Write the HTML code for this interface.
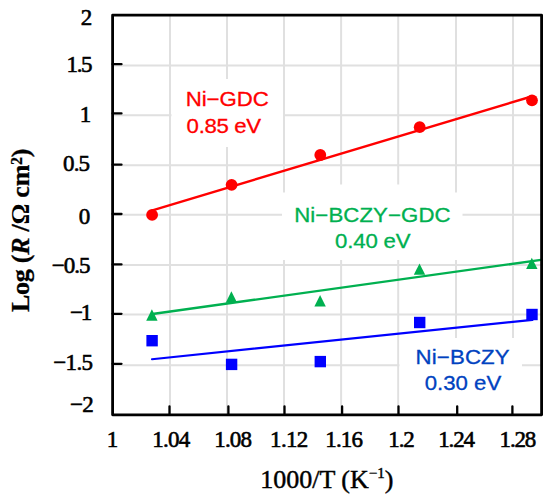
<!DOCTYPE html><html><head><meta charset="utf-8"><style>html,body{margin:0;padding:0;background:#fff;}svg{display:block;}</style></head><body>
<svg width="550" height="502" viewBox="0 0 550 502">
<rect x="0" y="0" width="550" height="502" fill="#fff"/>
<path d="M170.0 15V415M227.0 15V415M284.0 15V415M341.1 15V415M398.2 15V415M456.0 15V415M513.0 15V415M113 65.4H541M113 115.3H541M113 165.3H541M113 214.8H541M113 265.0H541M113 314.6H541M113 365.3H541" stroke="#e0e0e0" stroke-width="2" fill="none"/>
<rect x="171.5" y="79" width="111.5" height="68" fill="#fff"/>
<rect x="282" y="192.5" width="180.5" height="67.5" fill="#fff"/>
<rect x="300" y="184.5" width="140" height="10" fill="#fff"/>
<rect x="399.5" y="338" width="122.5" height="76" fill="#fff"/>
<line x1="152.4" y1="210.33" x2="532.4" y2="96.26" stroke="#ff0000" stroke-width="2.4" stroke-linecap="round"/>
<line x1="152.4" y1="314.03" x2="541" y2="259.82" stroke="#00b050" stroke-width="2.4" stroke-linecap="round"/>
<line x1="152.0" y1="359.24" x2="532.4" y2="319.81" stroke="#0000ff" stroke-width="2.2" stroke-linecap="round"/>
<circle cx="152.1" cy="214.9" r="5.9" fill="#ff0000"/>
<circle cx="231.6" cy="184.8" r="5.9" fill="#ff0000"/>
<circle cx="320.3" cy="155.0" r="5.9" fill="#ff0000"/>
<circle cx="419.7" cy="127.2" r="5.9" fill="#ff0000"/>
<circle cx="532.0" cy="100.3" r="5.9" fill="#ff0000"/>
<path d="M151.9 309.3L157.6 320.7H146.2Z" fill="#00b050"/>
<path d="M231.4 291.3L237.1 302.7H225.7Z" fill="#00b050"/>
<path d="M320.1 295.0L325.8 306.4H314.4Z" fill="#00b050"/>
<path d="M419.5 263.4L425.2 274.8H413.8Z" fill="#00b050"/>
<path d="M531.8 257.7L537.5 269.1H526.1Z" fill="#00b050"/>
<rect x="146.4" y="335.0" width="11.4" height="11.4" fill="#0000ff"/>
<rect x="225.9" y="358.7" width="11.4" height="11.4" fill="#0000ff"/>
<rect x="314.6" y="355.9" width="11.4" height="11.4" fill="#0000ff"/>
<rect x="414.0" y="316.8" width="11.4" height="11.4" fill="#0000ff"/>
<rect x="526.3" y="308.8" width="11.4" height="11.4" fill="#0000ff"/>
<rect x="112.6" y="15.2" width="429" height="399.6" fill="none" stroke="#000" stroke-width="2.8" stroke-linejoin="round"/>
<path d="M112.6 64.20H121.5M112.6 113.45H121.5M112.6 164.65H121.5M112.6 214.00H121.5M112.6 264.40H121.5M112.6 313.80H121.5M112.6 363.80H121.5M169.50 414.8V406.3M228.40 414.8V406.3M284.50 414.8V406.3M342.10 414.8V406.3M398.50 414.8V406.3M457.20 414.8V406.3M512.40 414.8V406.3" stroke="#000" stroke-width="2.3" stroke-linecap="round" fill="none"/>
<text id="y2" x="80.85" y="24.56" font-family='"Liberation Serif", serif' font-size="23" fill="#000" stroke="#000" stroke-width="0.6">2</text>
<text id="y15" x="66.62" y="71.56" textLength="25.87" lengthAdjust="spacing" font-family='"Liberation Serif", serif' font-size="23" fill="#000" stroke="#000" stroke-width="0.6">1.5</text>
<text id="y1" x="79.69" y="121.56" font-family='"Liberation Serif", serif' font-size="23" fill="#000" stroke="#000" stroke-width="0.6">1</text>
<text id="y05" x="63.06" y="171.31" textLength="27.03" lengthAdjust="spacing" font-family='"Liberation Serif", serif' font-size="23" fill="#000" stroke="#000" stroke-width="0.6">0.5</text>
<text id="y0" x="78.78" y="223.56" font-family='"Liberation Serif", serif' font-size="23" fill="#000" stroke="#000" stroke-width="0.6">0</text>
<text id="ym05" x="51.73" y="272.56" textLength="38.88" lengthAdjust="spacing" font-family='"Liberation Serif", serif' font-size="23" fill="#000" stroke="#000" stroke-width="0.6">−0.5</text>
<text id="ym1" x="69.97" y="320.31" textLength="22.28" lengthAdjust="spacing" font-family='"Liberation Serif", serif' font-size="23" fill="#000" stroke="#000" stroke-width="0.6">−1</text>
<text id="ym15" x="53.13" y="370.06" textLength="39.95" lengthAdjust="spacing" font-family='"Liberation Serif", serif' font-size="23" fill="#000" stroke="#000" stroke-width="0.6">−1.5</text>
<text id="ym2" x="69.97" y="411.56" textLength="23.69" lengthAdjust="spacing" font-family='"Liberation Serif", serif' font-size="23" fill="#000" stroke="#000" stroke-width="0.6">−2</text>
<text id="x100" x="106.85" y="446.56" font-family='"Liberation Serif", serif' font-size="23" fill="#000" stroke="#000" stroke-width="0.6">1</text>
<text id="x104" x="152.13" y="446.56" textLength="38.06" lengthAdjust="spacing" font-family='"Liberation Serif", serif' font-size="23" fill="#000" stroke="#000" stroke-width="0.6">1.04</text>
<text id="x108" x="214.27" y="446.56" textLength="37.78" lengthAdjust="spacing" font-family='"Liberation Serif", serif' font-size="23" fill="#000" stroke="#000" stroke-width="0.6">1.08</text>
<text id="x112" x="270.08" y="446.56" textLength="38.17" lengthAdjust="spacing" font-family='"Liberation Serif", serif' font-size="23" fill="#000" stroke="#000" stroke-width="0.6">1.12</text>
<text id="x116" x="325.27" y="446.56" textLength="37.75" lengthAdjust="spacing" font-family='"Liberation Serif", serif' font-size="23" fill="#000" stroke="#000" stroke-width="0.6">1.16</text>
<text id="x120" x="388.27" y="446.56" textLength="26.54" lengthAdjust="spacing" font-family='"Liberation Serif", serif' font-size="23" fill="#000" stroke="#000" stroke-width="0.6">1.2</text>
<text id="x124" x="438.13" y="446.56" textLength="36.95" lengthAdjust="spacing" font-family='"Liberation Serif", serif' font-size="23" fill="#000" stroke="#000" stroke-width="0.6">1.24</text>
<text id="x128" x="499.62" y="446.56" textLength="36.66" lengthAdjust="spacing" font-family='"Liberation Serif", serif' font-size="23" fill="#000" stroke="#000" stroke-width="0.6">1.28</text>
<text id="xt" x="260.21" y="488.09" textLength="133.11" lengthAdjust="spacing" font-family='"Liberation Serif", serif' font-size="26" fill="#000" stroke="#000" stroke-width="0.45">1000/T (K<tspan font-size="15" dy="-10">−1</tspan><tspan dy="10">)</tspan></text>
<text id="a1" transform="scale(1.1 1)" x="168.80" y="105.56" textLength="75.64" lengthAdjust="spacing" font-family='"Liberation Sans", sans-serif' font-size="20.2" fill="#ff0000" stroke="#ff0000" stroke-width="0.3">Ni−GDC</text>
<text id="a2" transform="scale(1.1 1)" x="169.64" y="132.56" textLength="67.81" lengthAdjust="spacing" font-family='"Liberation Sans", sans-serif' font-size="20.2" fill="#ff0000" stroke="#ff0000" stroke-width="0.3">0.85 eV</text>
<text id="a3" transform="scale(1.1 1)" x="267.45" y="221.56" textLength="142.20" lengthAdjust="spacing" font-family='"Liberation Sans", sans-serif' font-size="20.2" fill="#00b050" stroke="#00b050" stroke-width="0.3">Ni−BCZY−GDC</text>
<text id="a4" transform="scale(1.1 1)" x="304.51" y="248.06" textLength="68.79" lengthAdjust="spacing" font-family='"Liberation Sans", sans-serif' font-size="20.2" fill="#00b050" stroke="#00b050" stroke-width="0.3">0.40 eV</text>
<text id="a5" transform="scale(1.1 1)" x="377.71" y="364.31" textLength="85.60" lengthAdjust="spacing" font-family='"Liberation Sans", sans-serif' font-size="20.2" fill="#0042c0" stroke="#0042c0" stroke-width="0.3">Ni−BCZY</text>
<text id="a6" transform="scale(1.1 1)" x="386.09" y="390.31" textLength="69.55" lengthAdjust="spacing" font-family='"Liberation Sans", sans-serif' font-size="20.2" fill="#0042c0" stroke="#0042c0" stroke-width="0.3">0.30 eV</text>
<text id="yt" transform="translate(28.56 230.28) rotate(-90)" text-anchor="middle" textLength="163.52" lengthAdjust="spacing" font-family='"Liberation Serif", serif' font-size="26" font-weight="bold" stroke="#000" stroke-width="0.3">Log (<tspan font-style="italic">R</tspan> /<tspan stroke-width="0">Ω</tspan> cm<tspan font-size="16" dy="-7">2</tspan><tspan dy="7">)</tspan></text>
</svg></body></html>
